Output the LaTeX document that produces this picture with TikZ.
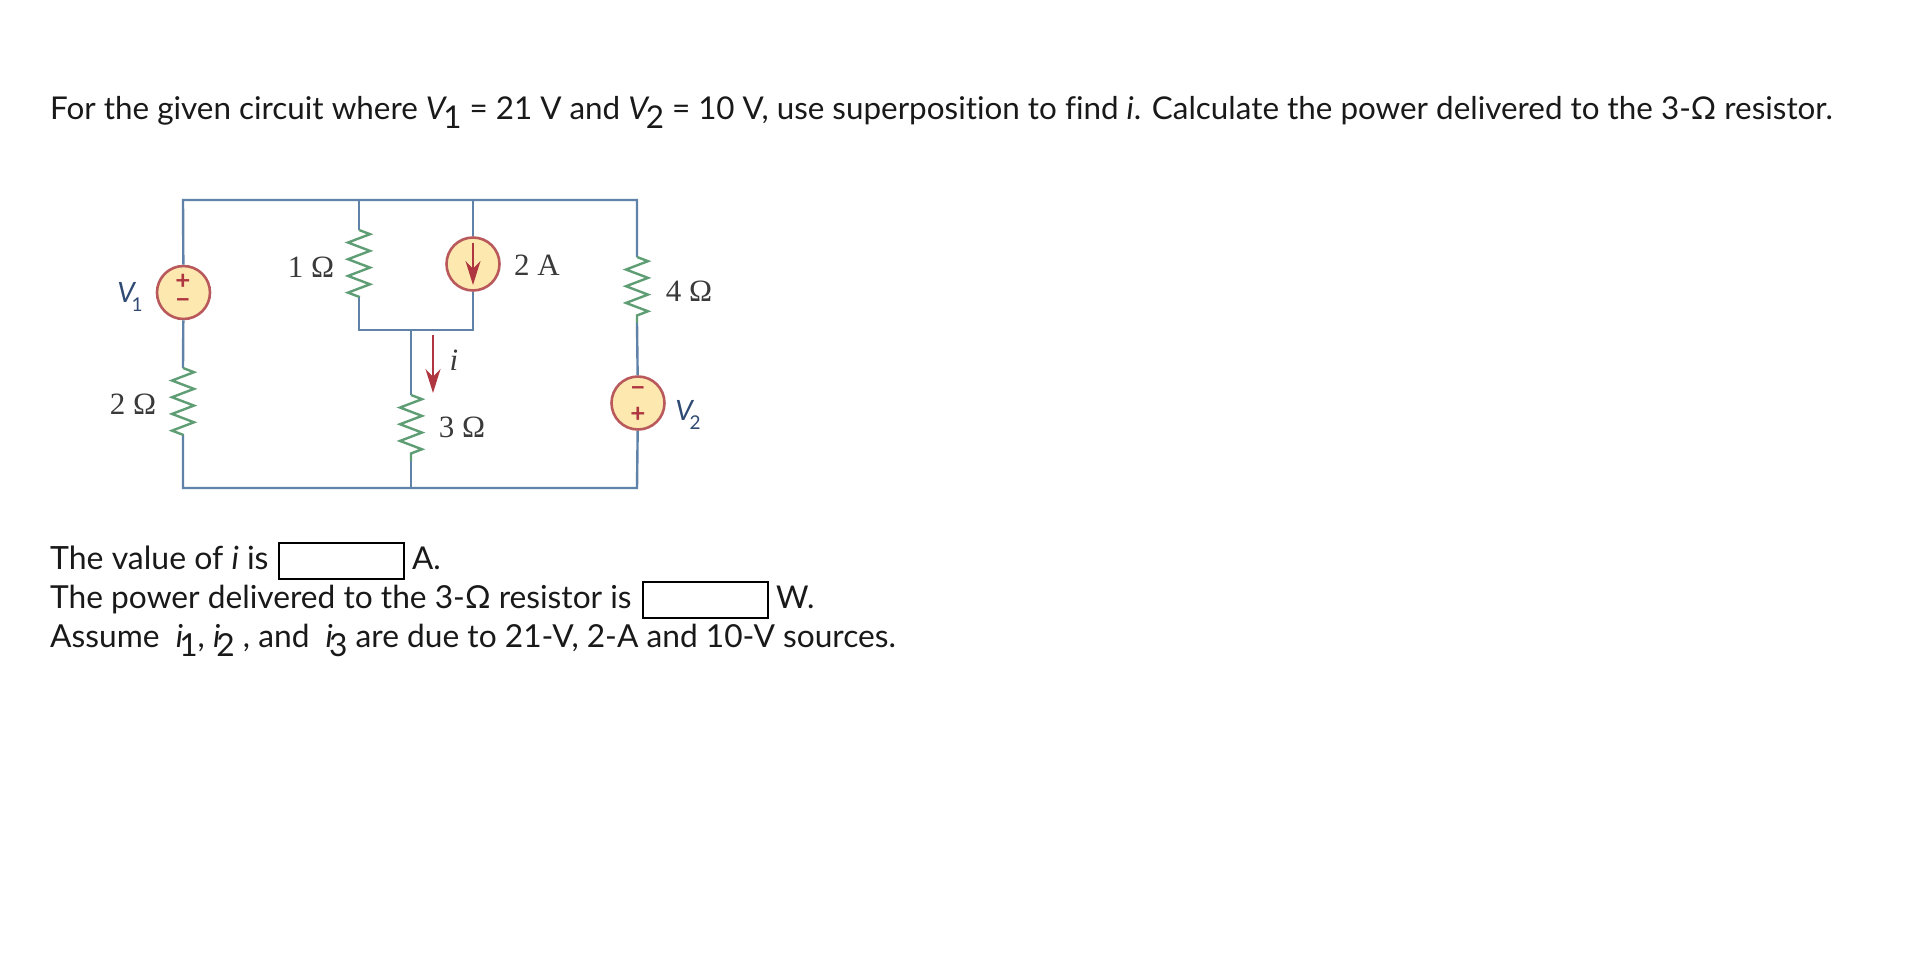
\documentclass[tikz,border=0pt]{standalone}
\usepackage{fontspec}
\setmainfont{Lato}[Ligatures=NoCommon]
\newfontfamily\labelfont{Liberation Serif}
\usetikzlibrary{arrows.meta}
\usetikzlibrary{decorations.pathmorphing}
\definecolor{wireblue}{HTML}{5F83A8}
\definecolor{resgreen}{HTML}{5F9E74}
\definecolor{srcfill}{HTML}{FDE9B0}
\definecolor{srcline}{HTML}{B9595C}
\definecolor{arrowred}{HTML}{AF3540}
\definecolor{labelgray}{HTML}{3A3A3A}
\definecolor{vblue}{HTML}{2F4A73}
\newcommand{\lowsub}[1]{\kern-0.12em\raisebox{-0.3em}{#1}}
\begin{document}
\begin{tikzpicture}[x = 1pt, y = -1pt]
\tikzstyle{TextStyle}=[anchor = base west, inner sep = 0pt,
                       text = black!90, font = \fontsize{31.4}{36}\selectfont]
\tikzstyle{AnswerStyle}=[draw = black, line width = 2pt, inner sep = 0pt, anchor = north west,
                         minimum width = 125pt, minimum height = 36pt]
\tikzstyle{WireStyle}=[draw = wireblue, line width = 2.4pt, line join = miter]
\tikzstyle{ResStyle}=[draw = resgreen, line width = 2.4pt, decorate,
                      decoration = {zigzag, segment length = 16.7pt, amplitude = 11pt}]
\tikzstyle{SourceStyle}=[shape = circle, draw = srcline, fill = srcfill, line width = 2.6pt,
                         minimum size = 53pt, inner sep = 0pt]
\tikzstyle{SignStyle}=[text = arrowred, inner sep = 0pt, font = \bfseries\fontsize{26}{26}\selectfont]
\tikzstyle{ValueStyle}=[text = labelgray, inner sep = 0pt, font = \labelfont\fontsize{31}{31}\selectfont]
\tikzstyle{VoltStyle}=[text = vblue, inner sep = 0pt, font = \fontsize{28}{28}\selectfont\itshape]
\tikzstyle{FlowStyle}=[draw = arrowred, line width = 2pt, -{Stealth[length = 24pt, width = 15pt]}]
\useasboundingbox (0,0) rectangle (1912,962);
% text
\node[TextStyle] (question) at (50,119) {For the given circuit where \textit{V}\lowsub{1} = 21 V and \textit{V}\lowsub{2} = 10 V, use superposition to find \textit{i}. Calculate the power delivered to the 3-Ω resistor.};
\node[TextStyle, font = \fontsize{32}{36}\selectfont] (valueline) at (50,569) {The value of \textit{i} is};
\node[AnswerStyle] (valuebox) at (278,542) {};
\node[TextStyle] (valueunit) at (412,569) {A.};
\node[TextStyle, font = \fontsize{31.7}{36}\selectfont] (powerline) at (50,608) {The power delivered to the 3-Ω resistor is};
\node[AnswerStyle] (powerbox) at (642,581) {};
\node[TextStyle] (powerunit) at (776,608) {W.};
\node[TextStyle, font = \fontsize{31.7}{36}\selectfont] (assumeline) at (50,647) {Assume\ \ \textit{i}\lowsub{1}, \textit{i}\lowsub{2}\ , and\ \ \textit{i}\lowsub{3} are due to 21-V, 2-A and 10-V sources.};
% corners and junctions
\coordinate (tl) at (183,200);
\coordinate (tone) at (359,200);
\coordinate (tsrc) at (473,200);
\coordinate (tr) at (637,200);
\coordinate (bl) at (183,488);
\coordinate (bmid) at (411,488);
\coordinate (br) at (637,488);
\coordinate (mone) at (359,330);
\coordinate (mmid) at (411,330);
\coordinate (msrc) at (473,330);
% resistor ends
\coordinate (r1a) at (359,230);
\coordinate (r1b) at (359,297);
\coordinate (r2a) at (183,368);
\coordinate (r2b) at (183,435);
\coordinate (r3a) at (411,395);
\coordinate (r3b) at (411,461);
\coordinate (r4a) at (637,257);
\coordinate (r4b) at (637,323);
% sources
\node[SourceStyle] (v1) at (183.5,292.5) {};
\node[SourceStyle] (v2) at (638,403) {};
\node[SourceStyle] (cs) at (473,264) {};
% wires
\draw[WireStyle] (v1) -- (tl) -- (tr) -- (r4a);
\draw[WireStyle] (tone) -- (r1a);
\draw[WireStyle] (r1b) -- (mone) -- (msrc) -- (cs);
\draw[WireStyle] (tsrc) -- (cs);
\draw[WireStyle] (mmid) -- (r3a);
\draw[WireStyle] (v1) -- (r2a);
\draw[WireStyle] (r2b) -- (bl) -- (br) -- (v2);
\draw[WireStyle] (r3b) -- (bmid);
\draw[WireStyle] (r4b) -- (v2);
% resistors
\draw[ResStyle] (r1a) -- (r1b);
\draw[ResStyle] (r2a) -- (r2b);
\draw[ResStyle] (r3a) -- (r3b);
\draw[ResStyle] (r4a) -- (r4b);
% signs
\node[SignStyle] (v1plus) at (183,282) {+};
\node[SignStyle] (v1minus) at (183,304) {−};
\node[SignStyle] (v2minus) at (638,392) {−};
\node[SignStyle] (v2plus) at (638,415) {+};
% arrows
\coordinate (csa) at (473,243);
\coordinate (csb) at (473,285);
\coordinate (ia) at (433,335);
\coordinate (ib) at (433,393);
\draw[FlowStyle] (csa) -- (csb);
\draw[FlowStyle] (ia) -- (ib);
% labels
\node[ValueStyle] (l1) at (311,267) {1 Ω};
\node[ValueStyle] (l2) at (133,404) {2 Ω};
\node[ValueStyle] (l3) at (462,427) {3 Ω};
\node[ValueStyle] (l4) at (689,291) {4 Ω};
\node[ValueStyle] (la) at (537,265) {2 A};
\node[ValueStyle] (li) at (454,360) {\itshape i};
\node[VoltStyle] (lv1) at (130,297) {V\lowsub{\fontsize{19}{19}\selectfont\upshape 1}};
\node[VoltStyle] (lv2) at (688,415) {V\lowsub{\fontsize{19}{19}\selectfont\upshape 2}};
\end{tikzpicture}
\end{document}
